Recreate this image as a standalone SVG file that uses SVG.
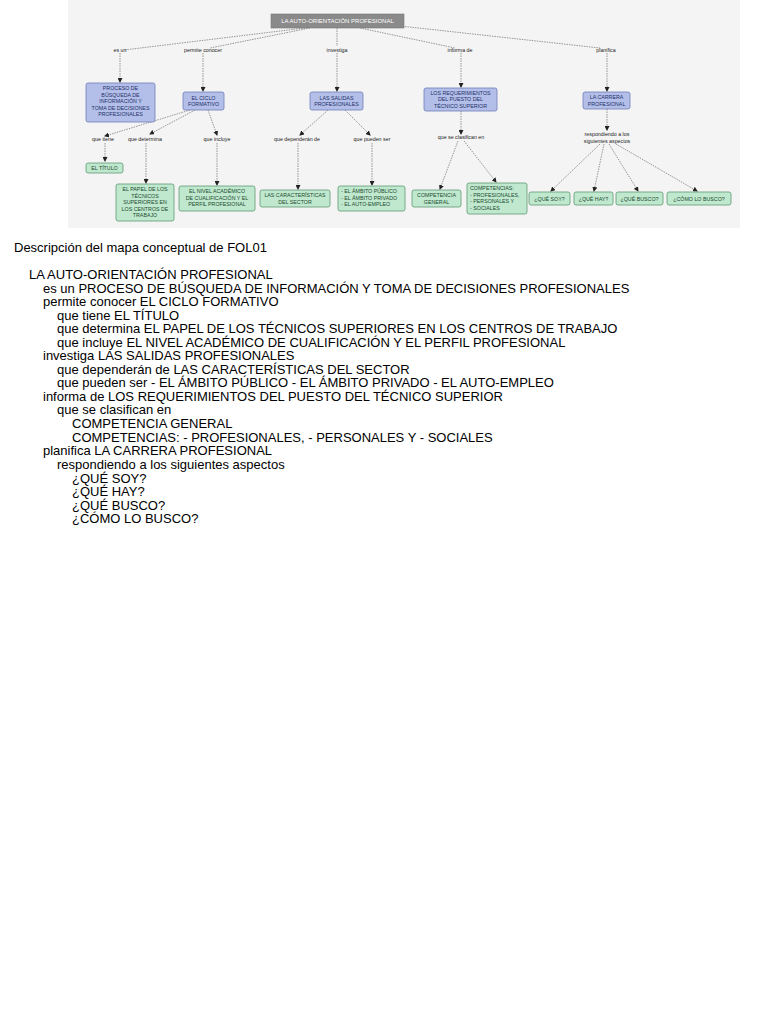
<svg xmlns="http://www.w3.org/2000/svg" width="768" height="1024" viewBox="0 0 768 1024">
<style>
text{font-family:"Liberation Sans",Arial,sans-serif}
.d text{font-size:5.3px;fill:#222;text-anchor:middle}
.b rect{fill:#b3bfe8;stroke:#6f7fb8;stroke-width:0.8}
.b text{fill:#24306a}
.g rect{fill:#bfe8cf;stroke:#5f9a74;stroke-width:0.8}
.g text{fill:#1c4a2c}
.c path{fill:none;stroke:#555;stroke-width:0.6;stroke-dasharray:1.5 1}
.a path{stroke:#555;stroke-width:0.6;stroke-dasharray:1.5 1;marker-end:url(#ar)}
.o{font-size:13px;fill:#000}
</style>
<defs><marker id="ar" markerWidth="5" markerHeight="5" refX="4" refY="2.5" orient="auto" markerUnits="userSpaceOnUse"><path d="M0,0L5,2.5L0,5z" fill="#222"/></marker></defs>
<rect x="68" y="0" width="672" height="228" fill="#f4f4f4"/>
<g class="d">
<g id="connectors" class="c">
<path d="M305,28L124,50M310,28L210,48M337,28V46M360,28L455,48M400,26L600,48"/>
<g class="a">
<path d="M120,53V82"/><path d="M203,53V91"/><path d="M337,53V91"/><path d="M461,53V87"/><path d="M607,53V91"/>
<path d="M190,110L105,136"/><path d="M105,143V161"/>
<path d="M195,110L150,134"/><path d="M146,143V183"/>
<path d="M208,110L217,135"/><path d="M217,143V185"/>
<path d="M328,110L300,135"/><path d="M298,143V189"/>
<path d="M345,110L370,135"/><path d="M372,143V185"/>
<path d="M461,111V134"/>
<path d="M458,141L440,189"/><path d="M464,141L496,182"/>
<path d="M607,109V130"/>
<path d="M600,144L551,191"/><path d="M604,144L594,191"/><path d="M609,144L638,191"/><path d="M616,144L697,191"/>
</g>
</g>
<g id="root"><rect x="271" y="14" width="133" height="14" fill="#8a8a8a" stroke="#777" stroke-width="0.6"/><text x="337.5" y="23" fill="#fff" style="fill:#fff;font-size:6px">LA AUTO-ORIENTACIÓN PROFESIONAL</text></g>
<g id="lbl">
<text x="120" y="52">es un</text><text x="203" y="52">permite conocer</text><text x="337" y="52">investiga</text><text x="460" y="52">informa de</text><text x="606" y="52">planifica</text>
<text x="103" y="141">que tiene</text><text x="145" y="141">que determina</text><text x="217" y="141">que incluye</text><text x="297" y="141">que dependerán de</text><text x="372" y="141">que pueden ser</text><text x="461" y="139">que se clasifican en</text>
<text x="607" y="136">respondiendo a los</text><text x="607" y="143">siguientes aspectos</text>
</g>
<g id="n1" class="b"><rect x="86" y="83" width="69" height="39" rx="2"/><text x="120.5" y="90">PROCESO DE</text><text x="120.5" y="96.5">BÚSQUEDA DE</text><text x="120.5" y="103">INFORMACIÓN  Y</text><text x="120.5" y="109.5">TOMA DE DECISIONES</text><text x="120.5" y="116">PROFESIONALES</text></g>
<g id="n2" class="b"><rect x="183" y="92" width="41" height="18" rx="2"/><text x="203.5" y="99.5">EL CICLO</text><text x="203.5" y="106">FORMATIVO</text></g>
<g id="n3" class="b"><rect x="310" y="92" width="53" height="18" rx="2"/><text x="336.5" y="99.5">LAS SALIDAS</text><text x="336.5" y="106">PROFESIONALES</text></g>
<g id="n4" class="b"><rect x="424" y="88" width="73" height="23" rx="2"/><text x="460.5" y="94.5">LOS REQUERIMIENTOS</text><text x="460.5" y="101">DEL PUESTO DEL</text><text x="460.5" y="107.5">TÉCNICO SUPERIOR</text></g>
<g id="n5" class="b"><rect x="583" y="92" width="47" height="17" rx="2"/><text x="606.5" y="99">LA CARRERA</text><text x="606.5" y="105.5">PROFESIONAL</text></g>
<g id="n6" class="g"><rect x="86" y="163" width="37" height="10" rx="2"/><text x="104.5" y="170">EL TÍTULO</text></g>
<g id="n7" class="g"><rect x="116" y="184" width="58" height="37" rx="2"/><text x="145" y="191">EL PAPEL DE LOS</text><text x="145" y="197.5">TÉCNICOS</text><text x="145" y="204">SUPERIORES EN</text><text x="145" y="210.5">LOS CENTROS DE</text><text x="145" y="217">TRABAJO</text></g>
<g id="n8" class="g"><rect x="179" y="186" width="76" height="25" rx="2"/><text x="217" y="193">EL NIVEL ACADÉMICO</text><text x="217" y="199.5">DE CUALIFICACIÓN Y EL</text><text x="217" y="206">PERFIL PROFESIONAL</text></g>
<g id="n9" class="g"><rect x="260" y="190" width="70" height="17" rx="2"/><text x="295" y="197">LAS CARACTERÍSTICAS</text><text x="295" y="203.5">DEL SECTOR</text></g>
<g id="n10" class="g"><rect x="338" y="186" width="67" height="25" rx="2"/><text x="341" y="193" style="text-anchor:start">- EL ÁMBITO PÚBLICO</text><text x="341" y="199.5" style="text-anchor:start">- EL ÁMBITO PRIVADO</text><text x="341" y="206" style="text-anchor:start">- EL AUTO-EMPLEO</text></g>
<g id="n11" class="g"><rect x="412" y="190" width="49" height="17" rx="2"/><text x="436.5" y="197">COMPETENCIA</text><text x="436.5" y="203.5">GENERAL</text></g>
<g id="n12" class="g"><rect x="467" y="183" width="60" height="31" rx="2"/><text x="470" y="190" style="text-anchor:start">COMPETENCIAS:</text><text x="470" y="196.5" style="text-anchor:start">- PROFESIONALES,</text><text x="470" y="203" style="text-anchor:start">- PERSONALES Y</text><text x="470" y="209.5" style="text-anchor:start">- SOCIALES</text></g>
<g id="n13" class="g"><rect x="529" y="192" width="41" height="13" rx="2"/><text x="549.5" y="200.5">¿QUÉ SOY?</text></g>
<g id="n14" class="g"><rect x="574" y="192" width="39" height="13" rx="2"/><text x="593.5" y="200.5">¿QUÉ HAY?</text></g>
<g id="n15" class="g"><rect x="616" y="192" width="47" height="13" rx="2"/><text x="639.5" y="200.5">¿QUÉ BUSCO?</text></g>
<g id="n16" class="g"><rect x="667" y="192" width="64" height="13" rx="2"/><text x="699" y="200.5">¿CÓMO LO BUSCO?</text></g>
</g>
<g id="outline">
<text class="o" x="14" y="252">Descripción del mapa conceptual de FOL01</text>
<text class="o" x="29" y="279">LA AUTO-ORIENTACIÓN PROFESIONAL</text>
<text class="o" x="43" y="293">es un PROCESO DE BÚSQUEDA DE INFORMACIÓN Y TOMA DE DECISIONES PROFESIONALES</text>
<text class="o" x="43" y="306">permite conocer EL CICLO FORMATIVO</text>
<text class="o" x="57" y="320">que tiene EL TÍTULO</text>
<text class="o" x="57" y="333">que determina EL PAPEL DE LOS TÉCNICOS SUPERIORES EN LOS CENTROS DE TRABAJO</text>
<text class="o" x="57" y="347">que incluye EL NIVEL ACADÉMICO DE CUALIFICACIÓN Y EL PERFIL PROFESIONAL</text>
<text class="o" x="43" y="360">investiga LAS SALIDAS PROFESIONALES</text>
<text class="o" x="57" y="374">que dependerán de LAS CARACTERÍSTICAS DEL SECTOR</text>
<text class="o" x="57" y="387">que pueden ser - EL ÁMBITO PÚBLICO - EL ÁMBITO PRIVADO - EL AUTO-EMPLEO</text>
<text class="o" x="43" y="401">informa de LOS REQUERIMIENTOS DEL PUESTO DEL TÉCNICO SUPERIOR</text>
<text class="o" x="57" y="414">que se clasifican en</text>
<text class="o" x="72" y="428">COMPETENCIA GENERAL</text>
<text class="o" x="72" y="442">COMPETENCIAS: - PROFESIONALES, - PERSONALES Y - SOCIALES</text>
<text class="o" x="43" y="455">planifica LA CARRERA PROFESIONAL</text>
<text class="o" x="57" y="469">respondiendo a los siguientes aspectos</text>
<text class="o" x="72" y="483">¿QUÉ SOY?</text>
<text class="o" x="72" y="496">¿QUÉ HAY?</text>
<text class="o" x="72" y="510">¿QUÉ BUSCO?</text>
<text class="o" x="72" y="523">¿CÓMO LO BUSCO?</text>
</g>
</svg>
